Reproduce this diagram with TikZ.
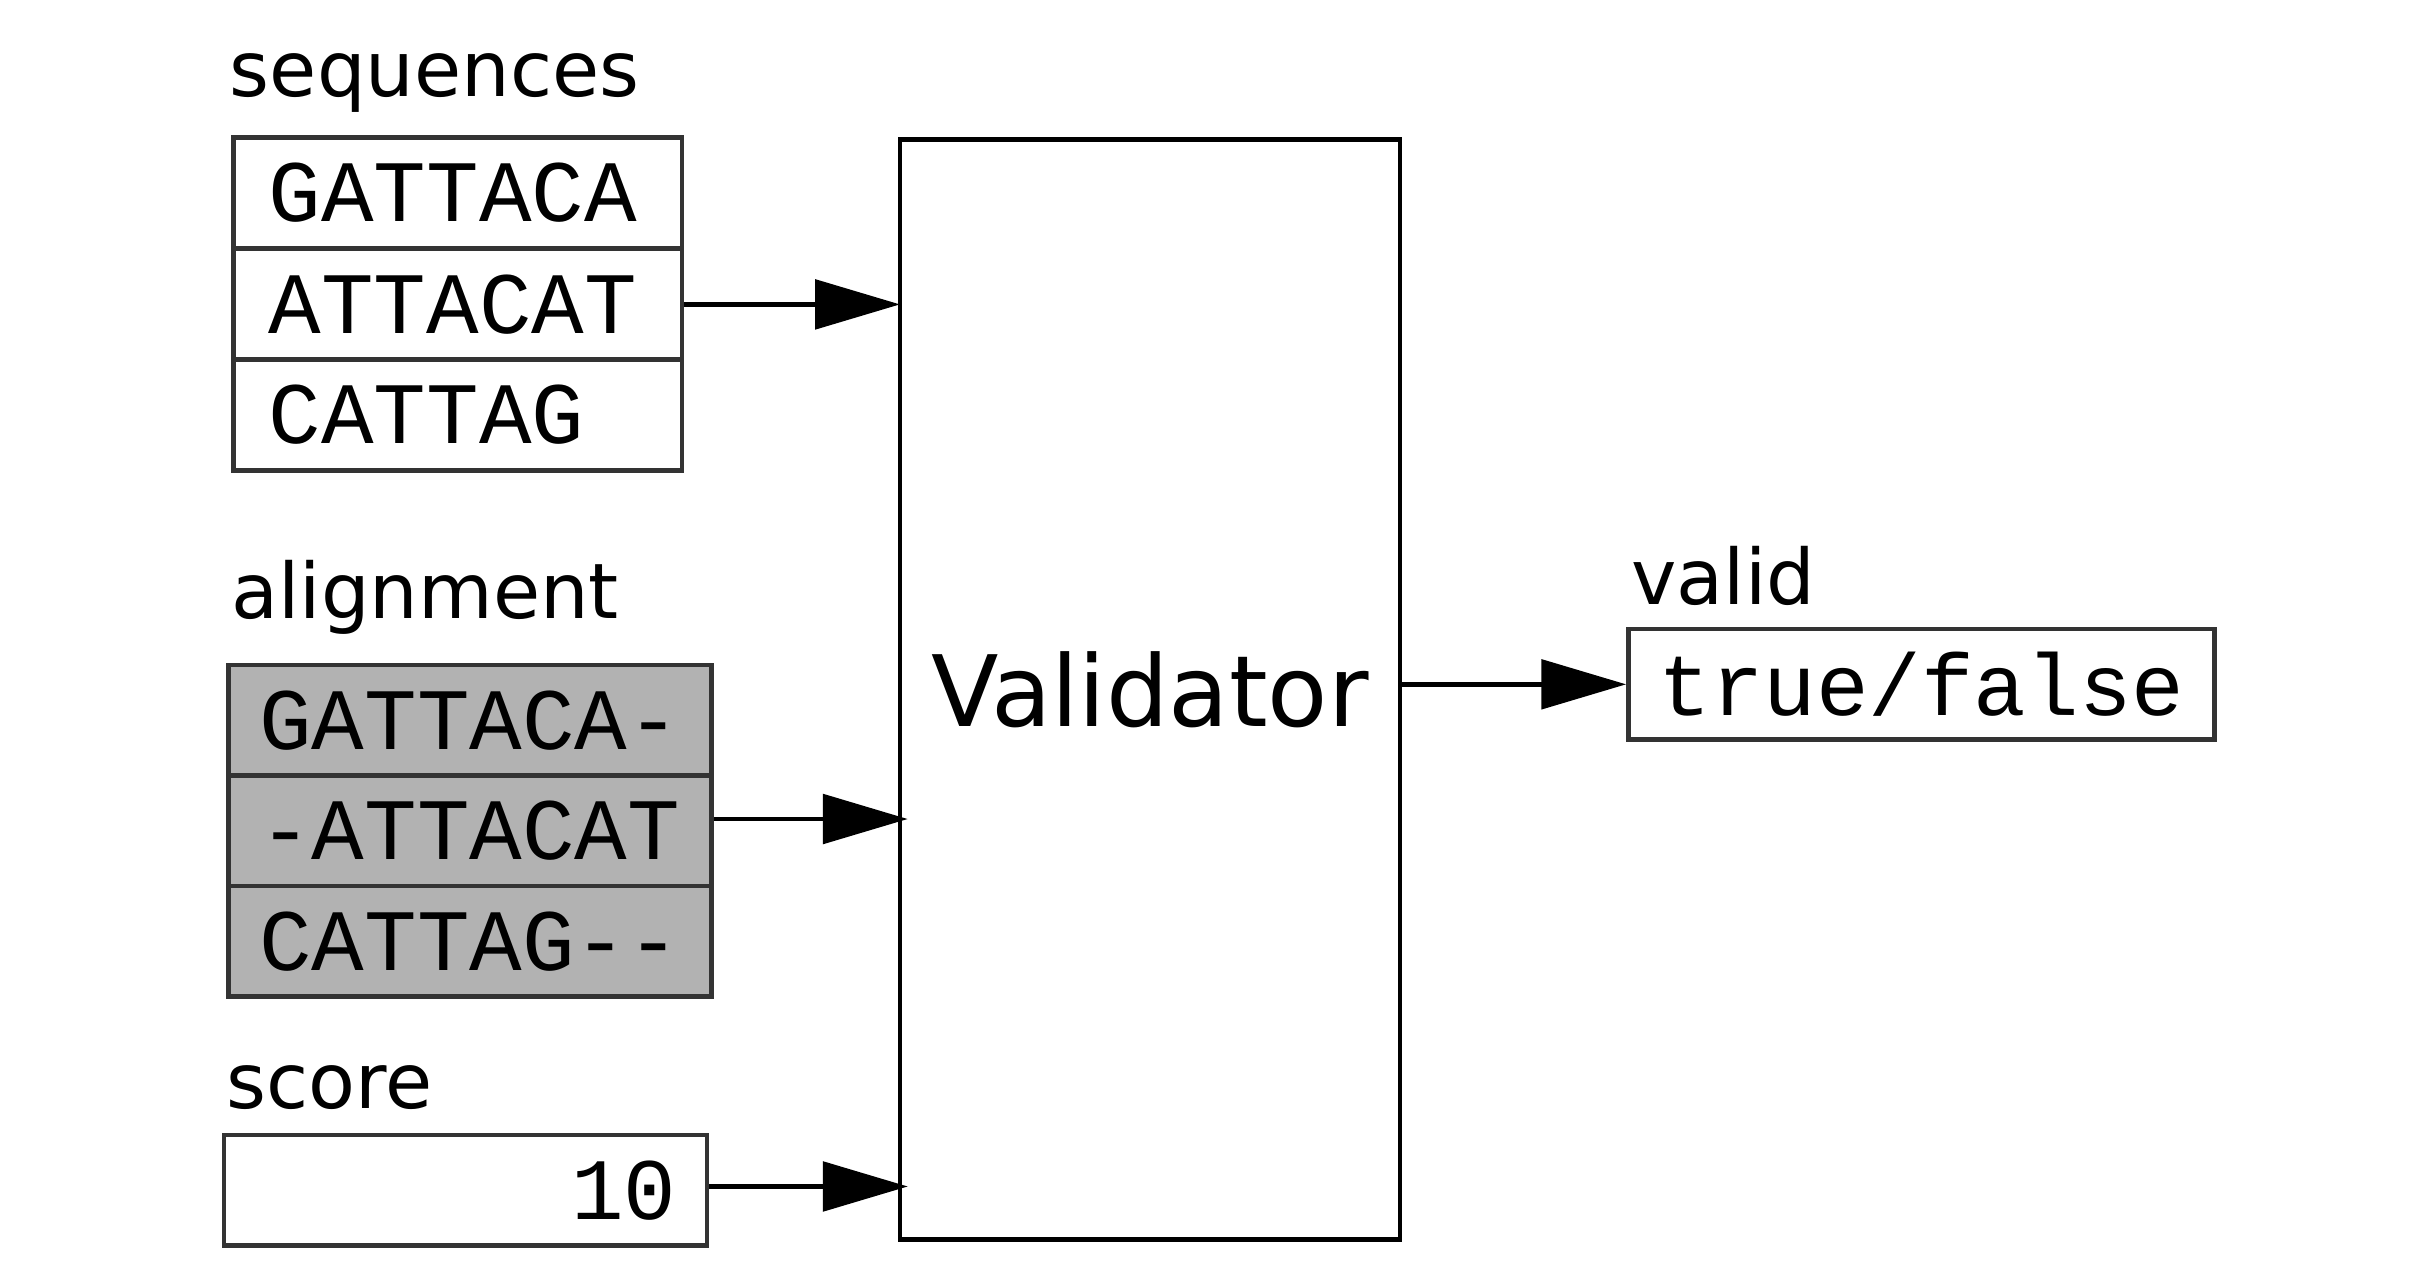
\documentclass[tikz,border=0pt]{standalone}
\usepackage{fontspec}
\setmainfont{DejaVu Sans}
\newfontfamily\monof{Liberation Mono}
\usetikzlibrary{arrows.meta}
\begin{document}
\begin{tikzpicture}[x=0.01cm,y=-0.01cm,
  row/.style={draw=black!80,line width=0.85pt,inner sep=0pt,minimum height=71\pgflinewidth*0+20.2pt,font=\monof\fontsize{16}{16}\selectfont},
  lab/.style={anchor=base west,inner sep=0pt,font=\fontsize{14}{14}\selectfont},
  arr/.style={line width=0.85pt,-{Triangle[length=15.5pt,width=9pt]}}]
\useasboundingbox (0,0) rectangle (1560,821);
% sequences
\node[lab] at (147,62) {sequences};
\foreach \n/\t/\y in {s1/GATTACA/124,s2/ATTACAT/195.5,s3/CATTAG/266.5}
  \node[row,minimum width=288\pgflinewidth*0+81.9pt,text width=69pt,align=left] (\n) at (294,\y) {\t};
% alignment
\node[lab] at (148,397) {alignment};
\foreach \n/\t/\y in {a1/GATTACA-/462.5,a2/-ATTACAT/533.5,a3/CATTAG--/604.5}
  \node[row,fill=black!30,minimum width=88.2pt,text width=77pt,align=left] (\n) at (302,\y) {\t};
% score
\node[lab] at (145,712) {score};
\node[row,minimum width=88.2pt,text width=77pt,align=right] (sc) at (299,764.5) {10};
% validator
\node[draw=black,line width=0.85pt,minimum width=91.3pt,minimum height=200.9pt,inner sep=0pt,font=\fontsize{18}{18}\selectfont] (v) at (738.5,443) {Validator};
% valid
\node[lab] at (1047,388) {valid};
\node[row,minimum width=107pt,text width=96pt,align=left] (out) at (1234,439.5) {true/false};
% arrows
\coordinate (t1) at (578,195.5);
\coordinate (t2) at (583,526);
\coordinate (t3) at (583,762);
\draw[arr] (s2.east) -- (t1);
\draw[arr] (a2.east |- t2) -- (t2);
\draw[arr] (sc.east |- t3) -- (t3);
\draw[arr] (v.east |- out) -- (out.west);
\end{tikzpicture}
\end{document}
